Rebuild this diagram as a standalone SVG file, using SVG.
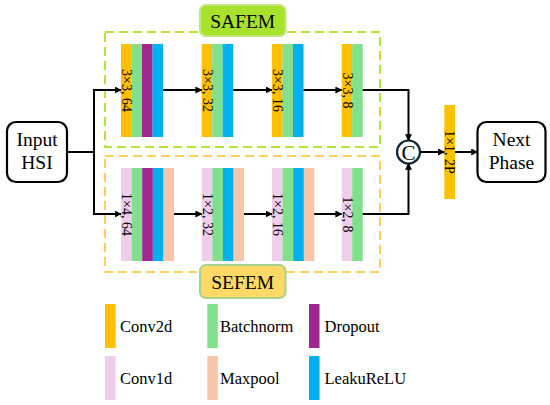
<svg xmlns="http://www.w3.org/2000/svg" width="550" height="405" viewBox="0 0 550 405">
<defs>
<style>
.t{font-family:"Liberation Serif","Times New Roman",serif;fill:#000}
.lbl{font-size:19.5px;text-anchor:middle}
.bl{font-size:14px;text-anchor:middle;dominant-baseline:central}
.lg{font-size:16.5px}
.c2{fill:#FFC000}.bn{fill:#82E08C}.dp{fill:#A0278F}.lr{fill:#00B0F0}.c1{fill:#EFCDEC}.mp{fill:#F6C5AA}
.ln{fill:none;stroke:#000;stroke-width:2}
.box{fill:#fff;stroke:#000;stroke-width:2.2}
</style>
<marker id="ah" viewBox="0 0 10 10" refX="9" refY="5" markerWidth="7" markerHeight="7" markerUnits="userSpaceOnUse" orient="auto">
<path d="M0,0 L10,5 L0,10 z" fill="#000"/>
</marker>
</defs>
<rect width="550" height="405" fill="#fff"/>

<g id="safem-frame">
<rect x="105" y="32" width="275" height="115" fill="none" stroke="#B4E43C" stroke-width="2" stroke-dasharray="9,5"/>
</g>
<g id="sefem-frame">
<rect x="105" y="156" width="275" height="116" fill="none" stroke="#FCD05C" stroke-width="2" stroke-dasharray="9,5"/>
</g>
<g id="safem-label">
<rect x="200" y="5" width="85.5" height="31" rx="6" fill="#A9E22C" stroke="#C5E67A" stroke-width="2"/>
<text class="t lbl" x="242.7" y="27.5" font-size="20">SAFEM</text>
</g>
<g id="sefem-label">
<rect x="200" y="265" width="85.5" height="33" rx="6" fill="#FFD966" stroke="#A9D18E" stroke-width="2"/>
<text class="t lbl" x="242.7" y="289" font-size="20">SEFEM</text>
</g>

<g id="input">
<rect class="box" x="7" y="122" width="60" height="60" rx="9"/>
<text class="t lbl" x="37" y="146">Input</text>
<text class="t lbl" x="37" y="169">HSI</text>
</g>
<g id="next">
<rect class="box" x="477.5" y="122" width="68" height="60" rx="9"/>
<text class="t lbl" x="511.5" y="146">Next</text>
<text class="t lbl" x="511.5" y="169">Phase</text>
</g>

<g id="a1">
<rect class="c2" x="121" y="44" width="10.6" height="93"/>
<rect class="bn" x="131.5" y="44" width="10.6" height="93"/>
<rect class="dp" x="142" y="44" width="10.6" height="93"/>
<rect class="lr" x="152.5" y="44" width="10.5" height="93"/>
<text class="t bl" transform="translate(126.3,90.5) rotate(90)">3×3, 64</text>
</g>
<g id="a2">
<rect class="c2" x="201.7" y="44" width="10.6" height="93"/>
<rect class="bn" x="212.2" y="44" width="10.6" height="93"/>
<rect class="lr" x="222.7" y="44" width="10.5" height="93"/>
<text class="t bl" transform="translate(207,90.5) rotate(90)">3×3, 32</text>
</g>
<g id="a3">
<rect class="c2" x="272" y="44" width="10.6" height="93"/>
<rect class="bn" x="282.5" y="44" width="10.6" height="93"/>
<rect class="lr" x="293" y="44" width="10.5" height="93"/>
<text class="t bl" transform="translate(277.3,90.5) rotate(90)">3×3, 16</text>
</g>
<g id="a4">
<rect class="c2" x="341.7" y="44" width="10.6" height="93"/>
<rect class="bn" x="352.2" y="44" width="10.5" height="93"/>
<text class="t bl" transform="translate(347,90.5) rotate(90)">3×3, 8</text>
</g>

<g id="e1">
<rect class="c1" x="121" y="168" width="10.7" height="93"/>
<rect class="bn" x="131.6" y="168" width="10.7" height="93"/>
<rect class="dp" x="142.2" y="168" width="10.7" height="93"/>
<rect class="lr" x="152.8" y="168" width="10.7" height="93"/>
<rect class="mp" x="163.4" y="168" width="10.6" height="93"/>
<text class="t bl" transform="translate(126.3,214.5) rotate(90)">1×4, 64</text>
</g>
<g id="e2">
<rect class="c1" x="201.7" y="168" width="10.7" height="93"/>
<rect class="bn" x="212.3" y="168" width="10.7" height="93"/>
<rect class="lr" x="222.9" y="168" width="10.7" height="93"/>
<rect class="mp" x="233.5" y="168" width="10.5" height="93"/>
<text class="t bl" transform="translate(207,214.5) rotate(90)">1×2, 32</text>
</g>
<g id="e3">
<rect class="c1" x="272" y="168" width="10.7" height="93"/>
<rect class="bn" x="282.6" y="168" width="10.7" height="93"/>
<rect class="lr" x="293.2" y="168" width="10.7" height="93"/>
<rect class="mp" x="303.8" y="168" width="10.4" height="93"/>
<text class="t bl" transform="translate(277.3,214.5) rotate(90)">1×2, 16</text>
</g>
<g id="e4">
<rect class="c1" x="341.7" y="168" width="10.6" height="93"/>
<rect class="bn" x="352.2" y="168" width="10.5" height="93"/>
<text class="t bl" transform="translate(347,214.5) rotate(90)">1×2, 8</text>
</g>

<g id="concat">
<circle cx="408.5" cy="152" r="11.5" fill="#fff" stroke="#13263A" stroke-width="2.2"/>
<text class="t" x="408.5" y="153" font-size="21" text-anchor="middle" dominant-baseline="central">C</text>
</g>
<g id="conv-out">
<rect class="c2" x="444.3" y="105" width="10.7" height="94"/>
<text class="t bl" transform="translate(449.6,152) rotate(90)">1×1, 2P</text>
</g>

<g id="connectors">
<path class="ln" d="M67,152 H94"/>
<path class="ln" d="M94,90 V214"/>
<path class="ln" d="M93,90 H121" marker-end="url(#ah)"/>
<path class="ln" d="M93,214 H121" marker-end="url(#ah)"/>
<path class="ln" d="M163,90 H201.7" marker-end="url(#ah)"/>
<path class="ln" d="M233.2,90 H272" marker-end="url(#ah)"/>
<path class="ln" d="M303.5,90 H341.7" marker-end="url(#ah)"/>
<path class="ln" d="M174,214 H201.7" marker-end="url(#ah)"/>
<path class="ln" d="M244,214 H272" marker-end="url(#ah)"/>
<path class="ln" d="M314.2,214 H341.7" marker-end="url(#ah)"/>
<path class="ln" d="M362.7,90 H408.5 V140.5" marker-end="url(#ah)"/>
<path class="ln" d="M362.7,214 H408.5 V163.5" marker-end="url(#ah)"/>
<path class="ln" d="M420,152 H444.3" marker-end="url(#ah)"/>
<path class="ln" d="M455,152 H477.5" marker-end="url(#ah)"/>
</g>

<g id="legend">
<rect class="c2" x="105" y="304" width="10.7" height="44"/>
<text class="t lg" x="120" y="331.5">Conv2d</text>
<rect class="bn" x="207.3" y="304" width="10.5" height="44"/>
<text class="t lg" x="220" y="331.5">Batchnorm</text>
<rect class="dp" x="309" y="304" width="10.5" height="44"/>
<text class="t lg" x="324.5" y="331.5">Dropout</text>
<rect class="c1" x="105" y="356" width="10.7" height="44"/>
<text class="t lg" x="120" y="383.5">Conv1d</text>
<rect class="mp" x="207.3" y="356" width="10.5" height="44"/>
<text class="t lg" x="220" y="383.5">Maxpool</text>
<rect class="lr" x="309" y="356" width="10.5" height="44"/>
<text class="t lg" x="324.5" y="383.5">LeakuReLU</text>
</g>
</svg>
